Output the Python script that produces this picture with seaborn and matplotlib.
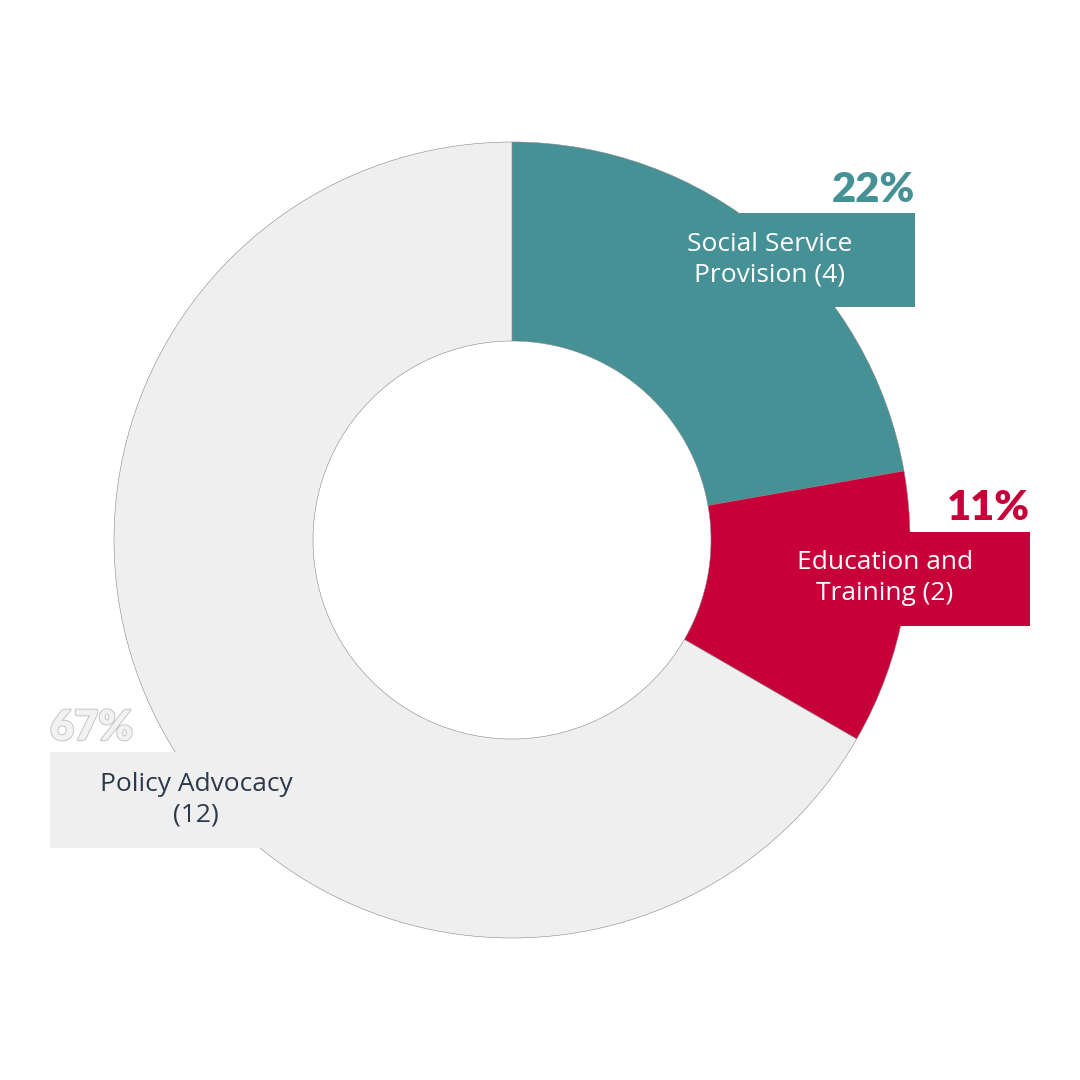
import matplotlib
matplotlib.use("Agg")
import matplotlib.pyplot as plt
import matplotlib.patheffects as pe
from matplotlib.patches import Rectangle
import seaborn as sns

categories = ["Social Service\nProvision (4)", "Education and\nTraining (2)", "Policy Advocacy\n(12)"]
values = [4, 2, 12]
percents = ["22%", "11%", "67%"]
colors = ["#459196", "#C70039", "#EFEFEF"]

sns.set_theme(style="white")
plt.rcParams['font.family'] = ['Open Sans', 'DejaVu Sans']

W = 1080
fig = plt.figure(figsize=(10.8, 10.8), dpi=100)
fig.patch.set_facecolor("white")
cx, cy, R = 512, 540, 398
ax = fig.add_axes([(cx - R) / W, (W - cy - R) / W, 2 * R / W, 2 * R / W])
ax.pie(values, colors=colors, startangle=90, counterclock=False, radius=1,
       wedgeprops=dict(width=0.5, edgecolor="#888888", linewidth=0.4))
ax.set_xlim(-1, 1); ax.set_ylim(-1, 1); ax.set_aspect("equal"); ax.axis("off")

def px(x, y):
    return x / W, 1 - y / W

def box(x0, y0, x1, y1, color):
    fig.patches.append(Rectangle(px(x0, y1), (x1 - x0) / W, (y1 - y0) / W,
                                 transform=fig.transFigure, facecolor=color,
                                 edgecolor="none", zorder=3))

# Social
box(740, 213, 915, 307, colors[0])
fig.text(*px(770, 260), categories[0], ha="center", va="center", fontsize=19,
         color="white", linespacing=1.3, zorder=4)
fig.text(*px(915, 190), percents[0], ha="right", va="center", fontsize=30,
         fontweight="heavy", color=colors[0], family=["Lato", "DejaVu Sans"], zorder=4)
# Education
box(900, 532, 1030, 626, colors[1])
box(880, 532, 1030, 626, colors[1])
fig.text(*px(885, 578), categories[1], ha="center", va="center", fontsize=19,
         color="white", linespacing=1.3, zorder=4)
fig.text(*px(1030, 508), percents[1], ha="right", va="center", fontsize=30,
         fontweight="heavy", color=colors[1], family=["Lato", "DejaVu Sans"], zorder=4)
# Policy
box(50, 752, 330, 848, colors[2])
fig.text(*px(196, 800), categories[2], ha="center", va="center", fontsize=19,
         color="#2B3A4A", linespacing=1.3, zorder=4)
fig.text(*px(50, 728), percents[2], ha="left", va="center", fontsize=30,
         fontweight="heavy", color="#F2F2F2", family=["Lato", "DejaVu Sans"], zorder=4,
         path_effects=[pe.withStroke(linewidth=1.5, foreground="#C8C8C8")])

fig.savefig("out.png", dpi=100, facecolor="white")
